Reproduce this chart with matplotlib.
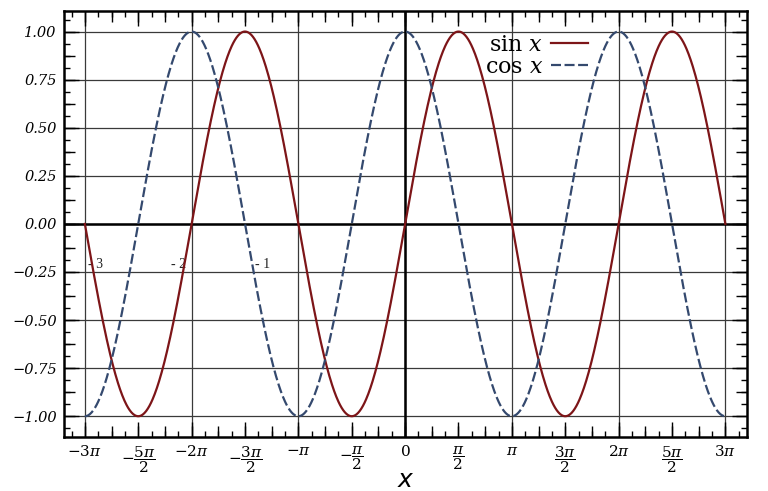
import numpy as np
import matplotlib
matplotlib.use("Agg")
import matplotlib.pyplot as plt
from matplotlib.ticker import MultipleLocator

plt.rcParams['mathtext.fontset'] = 'dejavuserif'
plt.rcParams['mathtext.default'] = 'it'
plt.rcParams['font.family'] = ['DejaVu Serif']

# data
x_start, x_end, n_pts = -3 * np.pi, 3 * np.pi, 1201
x = np.linspace(x_start, x_end, n_pts)
sin_y = np.sin(x)
cos_y = np.cos(x)

xtick_vals = [k * np.pi / 2 for k in range(-6, 7)]
xtick_labels = [r"$-\mathit{3}\pi$", r"$-\dfrac{\mathit{5}\pi}{\mathit{2}}$", r"$-\mathit{2}\pi$",
                r"$-\dfrac{\mathit{3}\pi}{\mathit{2}}$", r"$-\pi$",
                r"$-\dfrac{\pi}{\mathit{2}}$", r"$\mathit{0}$", r"$\dfrac{\pi}{\mathit{2}}$", r"$\pi$",
                r"$\dfrac{\mathit{3}\pi}{\mathit{2}}$",
                r"$\mathit{2}\pi$", r"$\dfrac{\mathit{5}\pi}{\mathit{2}}$", r"$\mathit{3}\pi$"]
ytick_vals = [-1.0, -0.75, -0.5, -0.25, 0.0, 0.25, 0.5, 0.75, 1.0]
ytick_labels = ["\u22121.00", "\u22120.75", "\u22120.50", "\u22120.25", "0.00",
                "0.25", "0.50", "0.75", "1.00"]
stray_labels = ["- 3", "- 2", "- 1"]
stray_x = [-9.12, -6.68, -4.21]
stray_y = -0.21

sin_color = "#7d1518"
cos_color = "#34496e"

fig = plt.figure(figsize=(7.68, 4.91), dpi=100)
pos = [0.0827, 0.110, 0.8896, 0.868]
ax = fig.add_axes(pos)
xlim = (-3.2 * np.pi, 3.2 * np.pi)
ylim = (-1.108, 1.108)

# grid lines
for k in range(-3, 4):
    ax.axvline(k * np.pi, color="#3a3a3a", lw=0.9, zorder=1)
for v in ytick_vals:
    ax.axhline(v, color="#3a3a3a", lw=0.9, zorder=1)
ax.axhline(0, color="black", lw=1.8, zorder=1.5)
ax.axvline(0, color="black", lw=1.8, zorder=1.5)

ax.plot(x, sin_y, color=sin_color, lw=1.6, label=r"$\mathrm{sin}\ x$", zorder=3)
ax.plot(x, cos_y, color=cos_color, lw=1.6, dashes=(4.5, 1.6), label=r"$\mathrm{cos}\ x$", zorder=3)

ax.set_xlim(*xlim)
ax.set_ylim(*ylim)

ax.set_xticks(xtick_vals)
ax.set_xticklabels(xtick_labels, fontsize=11)
ax.set_yticks(ytick_vals)
ax.set_yticklabels(ytick_labels, fontsize=10.5, fontstyle='italic')
ax.xaxis.set_minor_locator(MultipleLocator(np.pi / 8))
ax.yaxis.set_minor_locator(MultipleLocator(0.0625))
ax.tick_params(which='major', direction='in', length=11, width=1.0, top=True, right=True, pad=5, color='black')
ax.tick_params(which='minor', direction='in', length=4, width=1.0, top=True, right=True, color='black')
for s in ax.spines.values():
    s.set_linewidth(1.8)

ax.set_xlabel("x", fontsize=18, fontstyle='italic', family='DejaVu Sans', labelpad=-5)

# medium ticks at pi/4 and 0.125
ax2 = fig.add_axes(pos)
ax2.set_xlim(*xlim)
ax2.set_ylim(*ylim)
ax2.set_frame_on(False)
ax2.patch.set_visible(False)
ax2.xaxis.set_major_locator(MultipleLocator(np.pi / 4))
ax2.yaxis.set_major_locator(MultipleLocator(0.125))
ax2.tick_params(which='major', direction='in', length=8, width=1.0, top=True, right=True,
                labelbottom=False, labelleft=False, color='black')

for lab, sx in zip(stray_labels, stray_x):
    ax.text(sx, stray_y, lab, fontsize=10, family='Liberation Serif', color='#222222',
            ha='center', va='center', zorder=2)

leg = ax.legend(loc='upper left', bbox_to_anchor=(0.604, 0.966), frameon=False,
                markerfirst=False, fontsize=16, handlelength=1.65, handletextpad=0.35,
                labelspacing=0.0, borderaxespad=0)
for t in leg.get_texts():
    t.set_ha('right')

fig.savefig("out.png", dpi=100)
